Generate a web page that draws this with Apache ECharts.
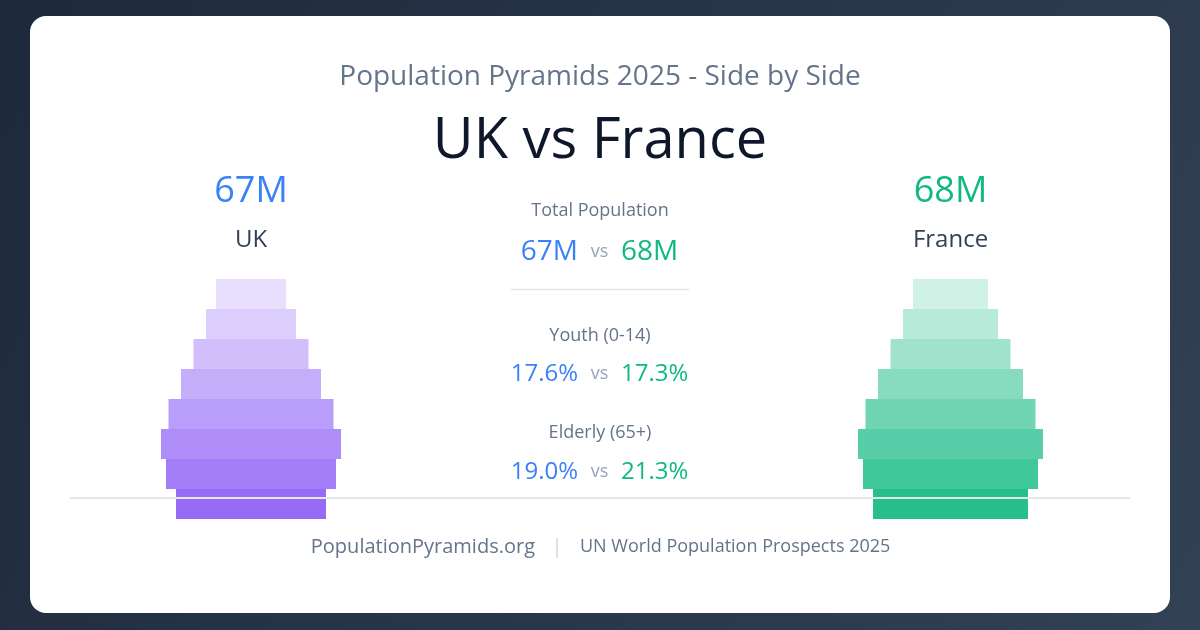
<!DOCTYPE html>
<html>
<head>
<meta charset="utf-8">
<script src="https://cdn.jsdelivr.net/npm/echarts@6/dist/echarts.min.js"></script>
<style>
  html, body { margin: 0; padding: 0; }
  #main { width: 1200px; height: 630px; }
</style>
</head>
<body>
<div id="main"></div>
<script>
(function () {
  // age bands, top of pyramid first
  var ageBands = ['70+', '60-69', '50-59', '40-49', '30-39', '20-29', '10-19', '0-9'];
  // bar size of each band (relative units)
  var ukValues = [70, 90, 115, 140, 165, 180, 170, 150];
  var frValues = [75, 95, 120, 145, 170, 185, 175, 155];

  var ukTotal = '67M', frTotal = '68M';
  var ukYouth = '17.6%', frYouth = '17.3%';
  var ukElderly = '19.0%', frElderly = '21.3%';

  var font = '"Open Sans", "Noto Sans", sans-serif';
  var blue = '#3b82f6', green = '#10b981';
  var shade = [0.2, 0.3, 0.4, 0.5, 0.6, 0.7, 0.8, 0.9]; // opacity top -> bottom
  var span = 200; // axis span of each pyramid

  var myChart = echarts.init(document.getElementById('main'));

  // invisible offset + visible bar, stacked, so each bar is centred
  function barSeries(idx, values, rgb) {
    var stack = 'p' + idx;
    return [
      {
        type: 'bar', xAxisIndex: idx, yAxisIndex: idx, stack: stack,
        data: values.map(function (v) { return (span - v) / 2; }),
        itemStyle: { color: 'rgba(0,0,0,0)' },
        barWidth: '100%', silent: true, animation: false
      },
      {
        type: 'bar', xAxisIndex: idx, yAxisIndex: idx, stack: stack,
        data: values.map(function (v, i) {
          return { value: v, itemStyle: { color: 'rgba(' + rgb + ',' + shade[i] + ')' } };
        }),
        barWidth: '100%', silent: true, animation: false
      }
    ];
  }

  function txt(x, y, text, size, color, align) {
    return {
      type: 'text', x: x, y: y, z: 5,
      style: {
        text: text, fontSize: size, fill: color, fontFamily: font,
        align: align || 'center', verticalAlign: 'middle'
      }
    };
  }

  function grid(center) {
    return { left: center - span / 2, width: span, top: 279, height: 240 };
  }
  function xAx(i) {
    return { type: 'value', gridIndex: i, min: 0, max: span, show: false };
  }
  function yAx(i) {
    return { type: 'category', gridIndex: i, data: ageBands, inverse: true, show: false };
  }

  var option = {
    backgroundColor: new echarts.graphic.LinearGradient(0, 0, 1, 1, [
      { offset: 0, color: '#1e293b' },
      { offset: 1, color: '#334155' }
    ]),
    grid: [grid(251), grid(950.5)],
    xAxis: [xAx(0), xAx(1)],
    yAxis: [yAx(0), yAx(1)],
    series: barSeries(0, ukValues, '139,92,246').concat(barSeries(1, frValues, '16,185,129')),
    graphic: [
      {
        type: 'rect', z: -1,
        shape: { x: 30, y: 16, width: 1140, height: 597, r: 16 },
        style: { fill: '#ffffff' }
      },
      {
        type: 'line', z: 10,
        shape: { x1: 70, y1: 498, x2: 1130, y2: 498 },
        style: { stroke: '#e2e8f0', lineWidth: 2 }
      },
      {
        type: 'line', z: 10,
        shape: { x1: 511, y1: 289.5, x2: 689, y2: 289.5 },
        style: { stroke: '#e2e8f0', lineWidth: 1.5 }
      },
      txt(600, 77, 'Population Pyramids 2025 - Side by Side', 28, '#64748b'),
      txt(600, 142, 'UK vs France', 56, '#0f172a'),

      txt(251, 192, ukTotal, 36, blue),
      txt(251, 240, 'UK', 24, '#334155'),
      txt(950.5, 192, frTotal, 36, green),
      txt(950.5, 240, 'France', 24, '#334155'),

      txt(600, 211, 'Total Population', 18, '#64748b'),
      txt(578, 252, ukTotal, 28, blue, 'right'),
      txt(599.5, 252, 'vs', 18, '#94a3b8'),
      txt(621, 252, frTotal, 28, green, 'left'),

      txt(600, 336, 'Youth (0-14)', 18, '#64748b'),
      txt(578, 374, ukYouth, 24, blue, 'right'),
      txt(599.5, 374, 'vs', 18, '#94a3b8'),
      txt(621, 374, frYouth, 24, green, 'left'),

      txt(600, 433, 'Elderly (65+)', 18, '#64748b'),
      txt(578, 472, ukElderly, 24, blue, 'right'),
      txt(599.5, 472, 'vs', 18, '#94a3b8'),
      txt(621, 472, frElderly, 24, green, 'left'),

      txt(535, 547, 'PopulationPyramids.org', 20, '#64748b', 'right'),
      txt(557, 547, '|', 20, '#cbd5e1'),
      txt(580, 547, 'UN World Population Prospects 2025', 18, '#64748b', 'left')
    ]
  };

  myChart.setOption(option);
  window.addEventListener('resize', function () {
    myChart.resize();
  });
})();
</script>
</body>
</html>
